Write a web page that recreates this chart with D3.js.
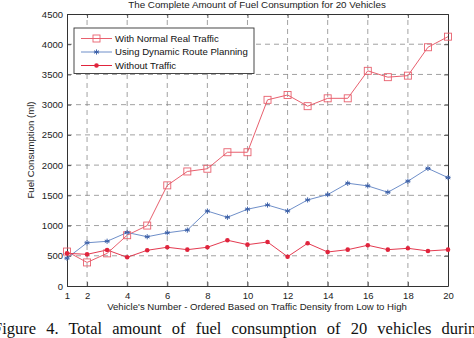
<!DOCTYPE html>
<html>
<head>
<meta charset="utf-8">
<script src="https://cdn.jsdelivr.net/npm/d3@7"></script>
<style>
  html, body { margin: 0; padding: 0; background: #fff; }
  svg { display: block; }
</style>
</head>
<body>
<svg id="chart" width="474" height="338"></svg>
<script>
// Vehicle indices, ordered by traffic density
const vehicles = d3.range(1, 21);

// Fuel consumption (ml) per vehicle for each scenario
const normalTraffic = [570, 390, 540, 840, 1000, 1665, 1895, 1940, 2213, 2213,
                       3080, 3160, 2975, 3105, 3105, 3560, 3455, 3480, 3950, 4125];
const dynamicRouting = [460, 715, 740, 885, 815, 880, 925, 1240, 1137, 1270,
                        1340, 1242, 1424, 1512, 1700, 1656, 1551, 1734, 1945, 1793];
const withoutTraffic = [540, 524, 596, 475, 591, 641, 601, 641, 757, 684,
                        728, 485, 707, 563, 601, 674, 601, 624, 580, 601];

const xTicks = [1, 2, 4, 6, 8, 10, 12, 14, 16, 18, 20];
const yTicks = d3.range(0, 4501, 500);

const seriesNames = ["With Normal Real Traffic", "Using Dynamic Route Planning", "Without Traffic"];

const svg = d3.select("#chart");
const font = "'Liberation Sans', Arial, Helvetica, sans-serif";

const plotLeft = 67, plotRight = 448, plotTop = 14, plotBottom = 286;
const x = d3.scaleLinear().domain([1, 20]).range([plotLeft, plotRight]);
const y = d3.scaleLinear().domain([0, 4500]).range([plotBottom, plotTop]);

// dashed grid
const grid = svg.append("g").attr("stroke", "#8a8a8a").attr("stroke-width", 0.8)
  .attr("stroke-dasharray", "5,4");
grid.selectAll("line.v").data(xTicks.filter(d => d > 1 && d < 20)).join("line")
  .attr("class", "v")
  .attr("x1", d => x(d)).attr("x2", d => x(d)).attr("y1", plotBottom).attr("y2", plotTop);
grid.selectAll("line.h").data(yTicks.filter(d => d > 0 && d < 4500)).join("line")
  .attr("class", "h")
  .attr("x1", plotLeft).attr("x2", plotRight).attr("y1", d => y(d)).attr("y2", d => y(d));

// axes with inward ticks (box style)
const axisColor = "#333";
const bottomAxis = d3.axisBottom(x).tickValues(xTicks).tickSizeInner(-4).tickSizeOuter(0).tickPadding(6);
const leftAxis = d3.axisLeft(y).tickValues(yTicks).tickFormat(d3.format("d"))
  .tickSizeInner(-4).tickSizeOuter(0).tickPadding(4);
const topAxis = d3.axisTop(x).tickValues(xTicks).tickSizeInner(-4).tickSizeOuter(0).tickFormat("");
const rightAxis = d3.axisRight(y).tickValues(yTicks).tickSizeInner(-4).tickSizeOuter(0).tickFormat("");

function styleAxis(g) {
  g.selectAll("path").attr("stroke", axisColor).attr("stroke-width", 1);
  g.selectAll("line").attr("stroke", axisColor).attr("stroke-width", 0.8);
  g.selectAll("text").attr("fill", "#222").attr("font-family", font).attr("font-size", 9.5);
}
svg.append("g").attr("transform", `translate(0,${plotBottom})`).call(bottomAxis).call(styleAxis);
svg.append("g").attr("transform", `translate(${plotLeft},0)`).call(leftAxis).call(styleAxis);
svg.append("g").attr("transform", `translate(0,${plotTop})`).call(topAxis).call(styleAxis);
svg.append("g").attr("transform", `translate(${plotRight},0)`).call(rightAxis).call(styleAxis);

// lines
const line = d3.line().x((d, i) => x(vehicles[i])).y(d => y(d));
const colNormal = "#e8606e", colDynamic = "#6f8fc9", colNone = "#e0243c";

svg.append("path").datum(normalTraffic).attr("d", line)
  .attr("fill", "none").attr("stroke", colNormal).attr("stroke-width", 1);
svg.append("path").datum(dynamicRouting).attr("d", line)
  .attr("fill", "none").attr("stroke", colDynamic).attr("stroke-width", 1);
svg.append("path").datum(withoutTraffic).attr("d", line)
  .attr("fill", "none").attr("stroke", colNone).attr("stroke-width", 0.9);

// markers
const sq = 7;
function squareMarker(g, cx, cy) {
  g.append("rect").attr("x", cx - sq / 2).attr("y", cy - sq / 2).attr("width", sq).attr("height", sq)
    .attr("fill", "none").attr("stroke", colNormal).attr("stroke-width", 0.9);
}
function starMarker(g, cx, cy) {
  const r = 2.6;
  const p = [0, 60, 120].map(a => {
    const t = a * Math.PI / 180;
    return `M${cx - r * Math.sin(t)},${cy - r * Math.cos(t)}L${cx + r * Math.sin(t)},${cy + r * Math.cos(t)}`;
  }).join("") + `M${cx - r},${cy}L${cx + r},${cy}`;
  g.append("path").attr("d", p).attr("stroke", "#3f63aa").attr("stroke-width", 1);
}
function dotMarker(g, cx, cy) {
  g.append("circle").attr("cx", cx).attr("cy", cy).attr("r", 2.3).attr("fill", colNone);
}

const mk = svg.append("g");
normalTraffic.forEach((v, i) => squareMarker(mk, x(vehicles[i]), y(v)));
dynamicRouting.forEach((v, i) => starMarker(mk, x(vehicles[i]), y(v)));
withoutTraffic.forEach((v, i) => dotMarker(mk, x(vehicles[i]), y(v)));

// legend
const lg = svg.append("g");
lg.append("rect").attr("x", 74).attr("y", 28).attr("width", 180).attr("height", 45.5)
  .attr("fill", "#fff").attr("stroke", "#333").attr("stroke-width", 0.9);
const rows = [38.5, 52, 65.5];
const markers = [squareMarker, starMarker, dotMarker];
const cols = [colNormal, colDynamic, colNone];
seriesNames.forEach((name, i) => {
  lg.append("line").attr("x1", 81).attr("x2", 112).attr("y1", rows[i]).attr("y2", rows[i])
    .attr("stroke", cols[i]).attr("stroke-width", 1);
  markers[i](lg, 96.5, rows[i]);
  lg.append("text").attr("x", 115).attr("y", rows[i] + 3.4).text(name)
    .attr("font-family", font).attr("font-size", 9.6).attr("fill", "#111");
});

// titles
svg.append("text").attr("x", 257).attr("y", 7.5).attr("text-anchor", "middle")
  .attr("font-family", font).attr("font-size", 9.8).attr("fill", "#222")
  .text("The Complete Amount of Fuel Consumption for 20 Vehicles");
svg.append("text").attr("x", 257).attr("y", 310).attr("text-anchor", "middle")
  .attr("font-family", font).attr("font-size", 9.6).attr("fill", "#222")
  .text("Vehicle's Number - Ordered Based on Traffic Density from Low to High");
svg.append("text").attr("transform", "translate(34,150) rotate(-90)").attr("text-anchor", "middle")
  .attr("font-family", font).attr("font-size", 9.6).attr("fill", "#222")
  .text("Fuel Consumption (ml)");

// figure caption
svg.append("text").attr("x", -7).attr("y", 334)
  .attr("font-family", "'Liberation Serif', 'Times New Roman', serif").attr("font-size", 16.5)
  .attr("fill", "#111").attr("word-spacing", 6)
  .text("Figure 4.  Total amount of fuel consumption of 20 vehicles during");
</script>
</body>
</html>
